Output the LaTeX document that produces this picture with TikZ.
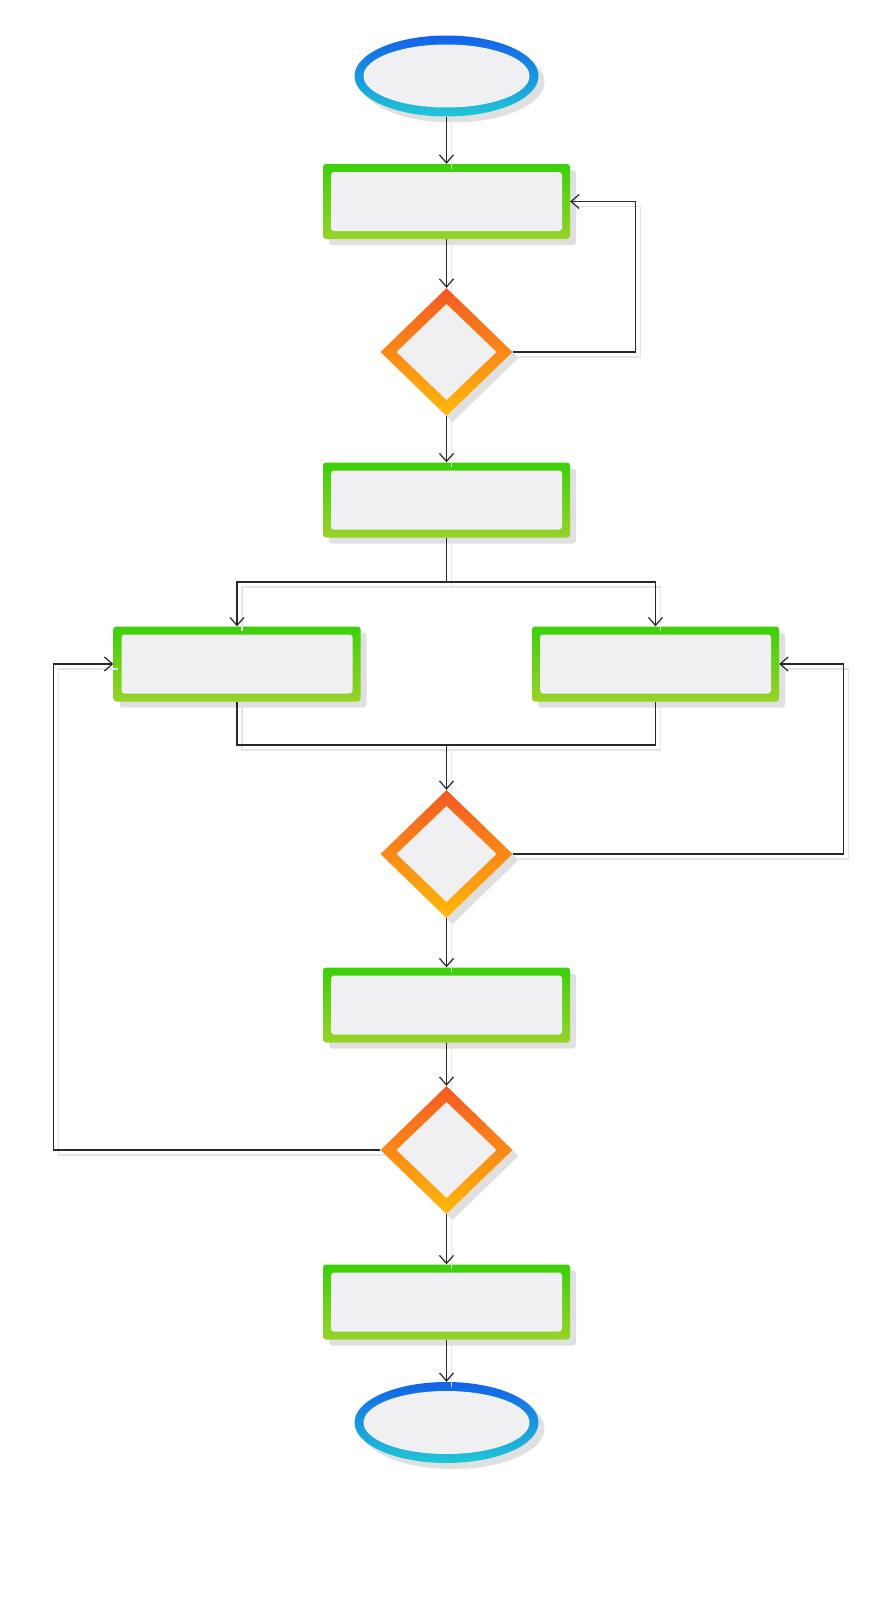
\documentclass[tikz,border=0pt]{standalone}
\usetikzlibrary{shapes.geometric,arrows.meta,shadows}

\definecolor{grnTop}{RGB}{60,208,10}
\definecolor{grnBot}{RGB}{152,210,40}
\definecolor{orgTop}{RGB}{245,88,36}
\definecolor{orgBot}{RGB}{255,186,10}
\definecolor{bluTop}{RGB}{18,98,232}
\definecolor{bluBot}{RGB}{32,200,214}
\definecolor{boxgray}{RGB}{240,240,242}
\definecolor{linegray}{RGB}{40,40,40}

\tikzset{
  shapeshadow/.style={drop shadow={shadow xshift=6pt,shadow yshift=-6pt,fill=black!12,opacity=1}},
  procbox/.style={rectangle,rounded corners=3pt,minimum width=247pt,minimum height=75pt,
    top color=grnTop,bottom color=grnBot,draw=none,shapeshadow,
    path picture={\fill[boxgray,rounded corners=3pt]
      ([shift={(8pt,-8pt)}]path picture bounding box.north west) rectangle
      ([shift={(-8pt,8pt)}]path picture bounding box.south east);}},
  decbox/.style={diamond,minimum width=132pt,minimum height=128pt,inner sep=0pt,
    top color=orgTop,bottom color=orgBot,draw=none,shapeshadow,
    path picture={\fill[boxgray]
      ([yshift=-16pt]path picture bounding box.north) --
      ([xshift=-16pt]path picture bounding box.east) --
      ([yshift=16pt]path picture bounding box.south) --
      ([xshift=16pt]path picture bounding box.west) -- cycle;}},
  termbox/.style={ellipse,minimum width=184pt,minimum height=81pt,inner sep=0pt,
    top color=bluTop,bottom color=bluBot,draw=none,shapeshadow,
    path picture={\fill[boxgray] (path picture bounding box.center)
      ellipse [x radius=83pt,y radius=31.5pt];}},
  wire/.style={draw=linegray,line width=1.2pt,
    preaction={draw=black!10,line width=1.4pt,arrows=-,transform canvas={shift={(5pt,-5pt)}}}},
  link/.style={wire,-{Straight Barb[length=8pt,width=14pt]}}
}

\begin{document}
\begin{tikzpicture}[x=1pt,y=-1pt]
\useasboundingbox[fill=white] (0,0) rectangle (893,1600);

\node[termbox] (start) at (446.5,76) {};
\node[procbox] (proc1) at (446.5,201.5) {};
\node[decbox]  (dec1)  at (446.5,352) {};
\node[procbox] (proc2) at (446.5,500) {};
\node[procbox] (procL) at (237,664) {};
\node[procbox] (procR) at (655.5,664) {};
\node[decbox]  (dec2)  at (446.5,854) {};
\node[procbox] (proc3) at (446.5,1005) {};
\node[decbox]  (dec3)  at (446.5,1150) {};
\node[procbox] (proc4) at (446.5,1302) {};
\node[termbox] (stop)  at (446.5,1422.5) {};

\coordinate (split) at (446.5,582);
\coordinate (merge) at (446.5,745);

\draw[link] (start) -- (proc1);
\draw[link] (proc1) -- (dec1);
\draw[link] (dec1.east) -| ([xshift=65pt]proc1.east) -- (proc1.east);
\draw[link] (dec1) -- (proc2);
\draw[wire] (proc2) -- (split);
\draw[link] (split) -| (procL.north);
\draw[link] (split) -| (procR.north);
\draw[wire] (procL.south) |- (merge);
\draw[wire] (procR.south) |- (merge);
\draw[link] (merge) -- (dec2);
\draw[link] (dec2.east) -| ([xshift=64pt]procR.east) -- (procR.east);
\draw[link] (dec2) -- (proc3);
\draw[link] (proc3) -- (dec3);
\draw[link] (dec3.west) -| ([xshift=-60pt]procL.west) -- (procL.west);
\draw[link] (dec3) -- (proc4);
\draw[link] (proc4) -- (stop);
\end{tikzpicture}
\end{document}
